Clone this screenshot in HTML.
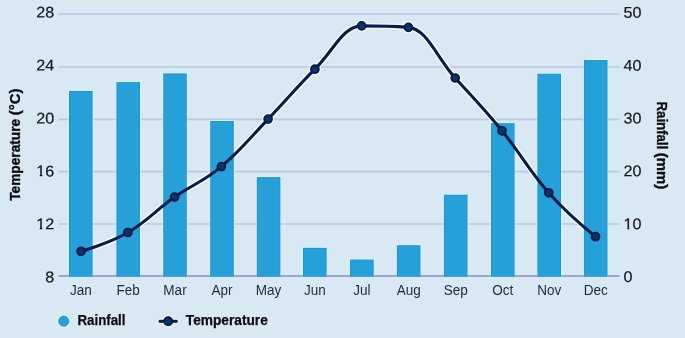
<!DOCTYPE html>
<html><head><meta charset="utf-8"><title>Climate chart</title>
<style>
html,body{margin:0;padding:0;background:#d9e9f3;}
svg{display:block;font-family:"Liberation Sans",sans-serif;}
.t{font-size:14.8px;fill:#1b2b3b;}
.n{font-size:15.5px;fill:#14171c;stroke:#14171c;stroke-width:0.2px;}
.b{font-size:14.5px;font-weight:bold;fill:#0c0c10;stroke:#0c0c10;stroke-width:0.25px;}
.rt{stroke-width:0.35px;}
</style></head><body>
<svg width="685" height="338" viewBox="0 0 685 338">
<rect width="685" height="338" fill="#d9e9f3"/>
<line x1="58.5" x2="619.5" y1="14.00" y2="14.00" stroke="#b9c7e2" stroke-width="1.6"/>
<line x1="58.5" x2="619.5" y1="67.00" y2="67.00" stroke="#b9c7e2" stroke-width="1.6"/>
<line x1="58.5" x2="619.5" y1="119.40" y2="119.40" stroke="#b9c7e2" stroke-width="1.6"/>
<line x1="58.5" x2="619.5" y1="171.60" y2="171.60" stroke="#b9c7e2" stroke-width="1.6"/>
<line x1="58.5" x2="619.5" y1="224.00" y2="224.00" stroke="#b9c7e2" stroke-width="1.6"/>
<line x1="58.5" x2="619.5" y1="276.1" y2="276.1" stroke="#878fc4" stroke-width="1.5"/>
<path d="M81.05,251.30C81.05,251.30 109.11,243.34 127.82,232.50C146.53,221.66 155.88,210.28 174.59,197.10C193.30,183.92 202.65,182.20 221.36,166.60C240.07,151.00 249.42,138.58 268.13,119.10C286.84,99.62 296.19,87.84 314.90,69.20C333.61,50.56 342.96,25.90 361.67,25.90C380.38,25.90 389.73,25.90 408.44,27.40C427.15,28.90 436.50,57.32 455.21,78.00C473.92,98.68 483.27,107.84 501.98,130.80C520.69,153.76 530.04,171.62 548.75,192.80C567.46,213.98 595.52,236.70 595.52,236.70" fill="none" stroke="#f7fbfd" stroke-opacity="1" stroke-width="5.8" stroke-linecap="round" stroke-linejoin="round"/>
<circle cx="81.05" cy="251.30" r="6.1" fill="#f7fbfd"/>
<circle cx="127.82" cy="232.50" r="6.1" fill="#f7fbfd"/>
<circle cx="174.59" cy="197.10" r="6.1" fill="#f7fbfd"/>
<circle cx="221.36" cy="166.60" r="6.1" fill="#f7fbfd"/>
<circle cx="268.13" cy="119.10" r="6.1" fill="#f7fbfd"/>
<circle cx="314.90" cy="69.20" r="6.1" fill="#f7fbfd"/>
<circle cx="361.67" cy="25.90" r="6.1" fill="#f7fbfd"/>
<circle cx="408.44" cy="27.40" r="6.1" fill="#f7fbfd"/>
<circle cx="455.21" cy="78.00" r="6.1" fill="#f7fbfd"/>
<circle cx="501.98" cy="130.80" r="6.1" fill="#f7fbfd"/>
<circle cx="548.75" cy="192.80" r="6.1" fill="#f7fbfd"/>
<circle cx="595.52" cy="236.70" r="6.1" fill="#f7fbfd"/>
<rect x="68.40" y="90.40" width="24.8" height="184.80" fill="#e9f3f8"/>
<rect x="69.00" y="91.00" width="23.6" height="185.40" fill="#1795d2"/>
<rect x="69.80" y="91.80" width="22.0" height="184.60" fill="#26a0d8"/>
<rect x="115.80" y="81.50" width="24.8" height="193.70" fill="#e9f3f8"/>
<rect x="116.40" y="82.10" width="23.6" height="194.30" fill="#1795d2"/>
<rect x="117.20" y="82.90" width="22.0" height="193.50" fill="#26a0d8"/>
<rect x="162.60" y="72.80" width="24.8" height="202.40" fill="#e9f3f8"/>
<rect x="163.20" y="73.40" width="23.6" height="203.00" fill="#1795d2"/>
<rect x="164.00" y="74.20" width="22.0" height="202.20" fill="#26a0d8"/>
<rect x="209.60" y="120.40" width="24.8" height="154.80" fill="#e9f3f8"/>
<rect x="210.20" y="121.00" width="23.6" height="155.40" fill="#1795d2"/>
<rect x="211.00" y="121.80" width="22.0" height="154.60" fill="#26a0d8"/>
<rect x="256.20" y="176.50" width="24.8" height="98.70" fill="#e9f3f8"/>
<rect x="256.80" y="177.10" width="23.6" height="99.30" fill="#1795d2"/>
<rect x="257.60" y="177.90" width="22.0" height="98.50" fill="#26a0d8"/>
<rect x="302.40" y="247.20" width="24.8" height="28.00" fill="#e9f3f8"/>
<rect x="303.00" y="247.80" width="23.6" height="28.60" fill="#1795d2"/>
<rect x="303.80" y="248.60" width="22.0" height="27.80" fill="#26a0d8"/>
<rect x="349.50" y="258.90" width="24.8" height="16.30" fill="#e9f3f8"/>
<rect x="350.10" y="259.50" width="23.6" height="16.90" fill="#1795d2"/>
<rect x="350.90" y="260.30" width="22.0" height="16.10" fill="#26a0d8"/>
<rect x="396.30" y="244.60" width="24.8" height="30.60" fill="#e9f3f8"/>
<rect x="396.90" y="245.20" width="23.6" height="31.20" fill="#1795d2"/>
<rect x="397.70" y="246.00" width="22.0" height="30.40" fill="#26a0d8"/>
<rect x="443.30" y="194.10" width="24.8" height="81.10" fill="#e9f3f8"/>
<rect x="443.90" y="194.70" width="23.6" height="81.70" fill="#1795d2"/>
<rect x="444.70" y="195.50" width="22.0" height="80.90" fill="#26a0d8"/>
<rect x="490.40" y="122.60" width="24.8" height="152.60" fill="#e9f3f8"/>
<rect x="491.00" y="123.20" width="23.6" height="153.20" fill="#1795d2"/>
<rect x="491.80" y="124.00" width="22.0" height="152.40" fill="#26a0d8"/>
<rect x="536.80" y="73.10" width="24.8" height="202.10" fill="#e9f3f8"/>
<rect x="537.40" y="73.70" width="23.6" height="202.70" fill="#1795d2"/>
<rect x="538.20" y="74.50" width="22.0" height="201.90" fill="#26a0d8"/>
<rect x="583.30" y="59.40" width="24.8" height="215.80" fill="#e9f3f8"/>
<rect x="583.90" y="60.00" width="23.6" height="216.40" fill="#1795d2"/>
<rect x="584.70" y="60.80" width="22.0" height="215.60" fill="#26a0d8"/>
<path d="M81.05,251.30C81.05,251.30 109.11,243.34 127.82,232.50C146.53,221.66 155.88,210.28 174.59,197.10C193.30,183.92 202.65,182.20 221.36,166.60C240.07,151.00 249.42,138.58 268.13,119.10C286.84,99.62 296.19,87.84 314.90,69.20C333.61,50.56 342.96,25.90 361.67,25.90C380.38,25.90 389.73,25.90 408.44,27.40C427.15,28.90 436.50,57.32 455.21,78.00C473.92,98.68 483.27,107.84 501.98,130.80C520.69,153.76 530.04,171.62 548.75,192.80C567.46,213.98 595.52,236.70 595.52,236.70" fill="none" stroke="#0a1a4a" stroke-width="3.1" stroke-linecap="round" stroke-linejoin="round"/>
<circle cx="81.05" cy="251.30" r="3.9" fill="#0a3569" stroke="#0a1a4a" stroke-width="1.9"/>
<circle cx="127.82" cy="232.50" r="3.9" fill="#0a3569" stroke="#0a1a4a" stroke-width="1.9"/>
<circle cx="174.59" cy="197.10" r="3.9" fill="#0a3569" stroke="#0a1a4a" stroke-width="1.9"/>
<circle cx="221.36" cy="166.60" r="3.9" fill="#0a3569" stroke="#0a1a4a" stroke-width="1.9"/>
<circle cx="268.13" cy="119.10" r="3.9" fill="#0a3569" stroke="#0a1a4a" stroke-width="1.9"/>
<circle cx="314.90" cy="69.20" r="3.9" fill="#0a3569" stroke="#0a1a4a" stroke-width="1.9"/>
<circle cx="361.67" cy="25.90" r="3.9" fill="#0a3569" stroke="#0a1a4a" stroke-width="1.9"/>
<circle cx="408.44" cy="27.40" r="3.9" fill="#0a3569" stroke="#0a1a4a" stroke-width="1.9"/>
<circle cx="455.21" cy="78.00" r="3.9" fill="#0a3569" stroke="#0a1a4a" stroke-width="1.9"/>
<circle cx="501.98" cy="130.80" r="3.9" fill="#0a3569" stroke="#0a1a4a" stroke-width="1.9"/>
<circle cx="548.75" cy="192.80" r="3.9" fill="#0a3569" stroke="#0a1a4a" stroke-width="1.9"/>
<circle cx="595.52" cy="236.70" r="3.9" fill="#0a3569" stroke="#0a1a4a" stroke-width="1.9"/>
<text class="n" transform="translate(54.2,17.60) rotate(0.05) scale(1.04,1)" text-anchor="end">28</text>
<text class="n" transform="translate(54.2,70.53) rotate(0.05) scale(1.04,1)" text-anchor="end">24</text>
<text class="n" transform="translate(54.2,123.46) rotate(0.05) scale(1.04,1)" text-anchor="end">20</text>
<text class="n" transform="translate(54.2,176.39) rotate(0.05) scale(1.04,1)" text-anchor="end">16</text>
<text class="n" transform="translate(54.2,229.32) rotate(0.05) scale(1.04,1)" text-anchor="end">12</text>
<text class="n" transform="translate(54.2,282.25) rotate(0.05) scale(1.04,1)" text-anchor="end">8</text>
<text class="n" transform="translate(623.6,17.80) rotate(0.05) scale(1.04,1)">50</text>
<text class="n" transform="translate(623.6,70.65) rotate(0.05) scale(1.04,1)">40</text>
<text class="n" transform="translate(623.6,123.50) rotate(0.05) scale(1.04,1)">30</text>
<text class="n" transform="translate(623.6,176.35) rotate(0.05) scale(1.04,1)">20</text>
<text class="n" transform="translate(623.6,229.20) rotate(0.05) scale(1.04,1)">10</text>
<text class="n" transform="translate(623.6,282.05) rotate(0.05) scale(1.04,1)">0</text>
<text class="t" transform="translate(80.80,295.2) scale(0.915,1)" text-anchor="middle">Jan</text>
<text class="t" transform="translate(128.20,295.2) scale(0.915,1)" text-anchor="middle">Feb</text>
<text class="t" transform="translate(175.00,295.2) scale(0.915,1)" text-anchor="middle">Mar</text>
<text class="t" transform="translate(222.00,295.2) scale(0.915,1)" text-anchor="middle">Apr</text>
<text class="t" transform="translate(268.60,295.2) scale(0.915,1)" text-anchor="middle">May</text>
<text class="t" transform="translate(314.80,295.2) scale(0.915,1)" text-anchor="middle">Jun</text>
<text class="t" transform="translate(361.90,295.2) scale(0.915,1)" text-anchor="middle">Jul</text>
<text class="t" transform="translate(408.70,295.2) scale(0.915,1)" text-anchor="middle">Aug</text>
<text class="t" transform="translate(455.70,295.2) scale(0.915,1)" text-anchor="middle">Sep</text>
<text class="t" transform="translate(502.80,295.2) scale(0.915,1)" text-anchor="middle">Oct</text>
<text class="t" transform="translate(549.20,295.2) scale(0.915,1)" text-anchor="middle">Nov</text>
<text class="t" transform="translate(595.70,295.2) scale(0.915,1)" text-anchor="middle">Dec</text>
<rect x="36.47" y="174.39" width="3.25" height="3" fill="#d9e9f3"/>
<rect x="42.32" y="174.39" width="3.25" height="3" fill="#d9e9f3"/>
<rect x="36.47" y="227.32" width="3.25" height="3" fill="#d9e9f3"/>
<rect x="42.32" y="227.32" width="3.25" height="3" fill="#d9e9f3"/>
<rect x="623.80" y="227.20" width="3.55" height="3" fill="#d9e9f3"/>
<rect x="629.35" y="227.20" width="3.15" height="3" fill="#d9e9f3"/>
<g transform="translate(20.3,0) rotate(-90)" class="b rt"><text x="-200.8" y="0" textLength="82" lengthAdjust="spacingAndGlyphs">Temperature</text><text x="-115.2" y="0" textLength="26.6" lengthAdjust="spacingAndGlyphs">(°C)</text></g>
<g transform="translate(656.8,0) rotate(90)" class="b rt"><text x="101.6" y="0" textLength="47.6" lengthAdjust="spacingAndGlyphs">Rainfall</text><text x="152.8" y="0" textLength="36.5" lengthAdjust="spacingAndGlyphs">(mm)</text></g>
<circle cx="63.8" cy="321.2" r="6.7" fill="#edf5f9"/>
<line x1="157.7" x2="178.6" y1="321.3" y2="321.3" stroke="#f3f9fc" stroke-width="5"/>
<circle cx="168.2" cy="321.3" r="6.1" fill="#f3f9fc"/>
<circle cx="63.8" cy="321.2" r="5.15" fill="#26a0d8" stroke="#1795d2" stroke-width="0.9"/>
<text class="b" x="77.5" y="325.4" textLength="48" lengthAdjust="spacingAndGlyphs">Rainfall</text>
<line x1="158.7" x2="177.6" y1="321.3" y2="321.3" stroke="#0a1a4a" stroke-width="3" stroke-linecap="butt"/>
<circle cx="168.2" cy="321.3" r="4.0" fill="#0a3569" stroke="#0a1a4a" stroke-width="1.9"/>
<text class="b" x="185.8" y="325.4" textLength="82" lengthAdjust="spacingAndGlyphs">Temperature</text>
</svg></body></html>
